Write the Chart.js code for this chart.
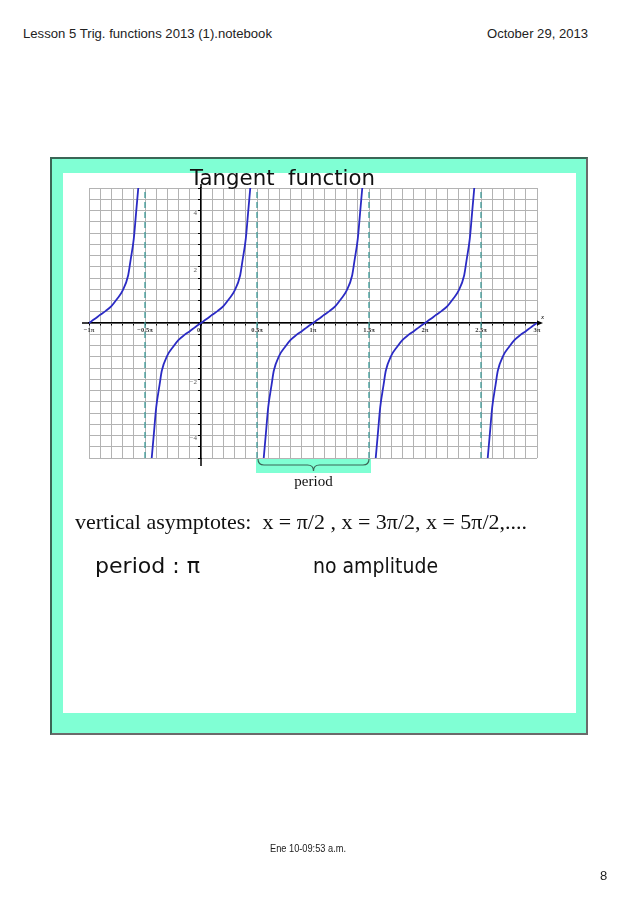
<!DOCTYPE html>
<html>
<head>
<meta charset="utf-8">
<script src="https://cdn.jsdelivr.net/npm/chart.js@4.4.1/dist/chart.umd.min.js"></script>
<style>
html, body { margin: 0; padding: 0; background: #fff; }
#page { position: relative; width: 638px; height: 903px; overflow: hidden; background: #fff; }
.t { position: absolute; white-space: pre; line-height: 1; transform-origin: 0 50%; color: #111; }
.sans { font-family: "Liberation Sans", Arial, sans-serif; color: #222; }
.serif { font-family: "Liberation Serif", "Times New Roman", serif; }
.comic { font-family: "DejaVu Sans", sans-serif; }
#box { position: absolute; left: 50px; top: 157px; width: 538px; height: 578px; box-sizing: border-box;
       background: #80ffd4; border: 2px solid #3b6656; border-right-color: #6a6a6a; border-bottom-color: #6a6a6a; }
#inner { position: absolute; left: 63px; top: 173px; width: 513px; height: 540px; background: #fff; }
#myChart { position: absolute; left: 0; top: 0; }
</style>
</head>
<body>
<div id="page">
  <div class="t sans" style="left:23px;top:28px;font-size:12px" data-w="249">Lesson 5 Trig. functions 2013 (1).notebook</div>
  <div class="t sans" style="left:487px;top:28px;font-size:12px" data-w="101">October 29, 2013</div>

  <div id="box"></div>
  <div id="inner"></div>
  <canvas id="myChart" width="638" height="903"></canvas>

  <div class="t comic" style="left:190px;top:167px;font-size:22px" data-w="185">Tangent  function</div>
  <div class="t serif" style="left:75px;top:512px;font-size:21px" data-w="452">vertical asymptotes:  x = π/2 , x = 3π/2, x = 5π/2,....</div>
  <div class="t comic" style="left:95px;top:556px;font-size:21px" data-w="105">period : π</div>
  <div class="t comic" style="left:313px;top:556px;font-size:21px" data-w="125">no amplitude</div>

  <div class="t sans" style="left:270px;top:844px;font-size:10px" data-w="76">Ene 10-09:53 a.m.</div>
  <div class="t sans" style="left:600px;top:869px;font-size:13px">8</div>
</div>

<script>
// x values are in units of pi
const tickValuesX = [-1, -0.5, 0, 0.5, 1, 1.5, 2, 2.5, 3];
const tickLabelsX = ['\u22121\u03c0', '\u22120.5\u03c0', '0\u00a0\u00a0\u00a0', '0.5\u03c0', '1\u03c0', '1.5\u03c0', '2\u03c0', '2.5\u03c0', '3\u03c0'];
const tickValuesY = [-4, -2, 2, 4];
const tickLabelsY = ['\u22124', '\u22122', '2', '4'];

const asymptotes = [-0.5, 0.5, 1.5, 2.5];
const branchCenters = [-1, 0, 1, 2, 3];

// one branch: offset from the branch centre and height
const branchOffsets = [-0.44, -0.42, -0.40, -0.37, -0.35, -0.30, -0.25, -0.20, -0.15, -0.10, -0.05, 0,
                       0.05, 0.10, 0.15, 0.20, 0.25, 0.30, 0.35, 0.37, 0.40, 0.42, 0.44];
const branchValues = [-4.8, -3.9, -3.0, -2.2, -1.7, -1.15, -0.85, -0.6, -0.43, -0.29, -0.14, 0,
                      0.14, 0.29, 0.43, 0.6, 0.85, 1.15, 1.7, 2.2, 3.0, 3.9, 4.8];

const xMin = -1, xMax = 3, yMin = -4.8, yMax = 4.8;

function near(a, b) { return Math.abs(a - b) < 1e-6; }

function labelFor(v, values, labels) {
    for (let i = 0; i < values.length; i++) {
        if (near(v, values[i])) return labels[i];
    }
    return '';
}

const datasets = [];

branchCenters.forEach(function (c) {
    const pts = [];
    branchOffsets.forEach(function (d, i) {
        const x = c + d;
        if (x >= xMin - 1e-9 && x <= xMax + 1e-9) pts.push({ x: x, y: branchValues[i] });
    });
    datasets.push({
        data: pts,
        borderColor: '#2b2bc4',
        borderWidth: 1.8,
        pointRadius: 0,
        cubicInterpolationMode: 'monotone',
        fill: false
    });
});

asymptotes.forEach(function (a) {
    datasets.push({
        data: [{ x: a, y: yMin }, { x: a, y: yMax }],
        borderColor: '#3c9a98',
        borderWidth: 1.3,
        borderDash: [6, 4],
        pointRadius: 0,
        fill: false
    });
});

// axis extensions, arrow and the "period" brace below the grid
const extras = {
    id: 'extras',
    afterDraw: function (chart) {
        const ctx = chart.ctx;
        const xs = chart.scales.x, ys = chart.scales.y;
        const area = chart.chartArea;
        const x0 = xs.getPixelForValue(0), y0 = ys.getPixelForValue(0);
        ctx.save();
        ctx.strokeStyle = '#000';
        ctx.lineWidth = 1.5;
        ctx.beginPath();
        ctx.moveTo(x0, area.top - 4);
        ctx.lineTo(x0, area.top);
        ctx.moveTo(x0, area.bottom);
        ctx.lineTo(x0, area.bottom + 8);
        ctx.moveTo(area.left - 7, y0);
        ctx.lineTo(area.left, y0);
        ctx.moveTo(area.right, y0);
        ctx.lineTo(area.right + 3, y0);
        ctx.stroke();
        ctx.fillStyle = '#000';
        ctx.beginPath();
        ctx.moveTo(area.right + 6, y0);
        ctx.lineTo(area.right, y0 - 2.5);
        ctx.lineTo(area.right, y0 + 2.5);
        ctx.closePath();
        ctx.fill();
        ctx.font = 'italic 7px "Liberation Serif"';
        ctx.fillText('x', area.right + 4, y0 - 4);

        // y labels sit just left of the vertical axis
        ctx.fillStyle = '#555';
        ctx.font = '7px "Liberation Serif"';
        ctx.textAlign = 'right';
        ctx.textBaseline = 'middle';
        tickValuesY.forEach(function (v, i) {
            ctx.fillText(tickLabelsY[i], x0 - 4, ys.getPixelForValue(v) + 3);
        });

        // period bracket between two asymptotes
        const xl = xs.getPixelForValue(asymptotes[1]) - 1;
        const xr = xs.getPixelForValue(asymptotes[2]) + 2;
        const t = area.bottom + 1;
        ctx.fillStyle = '#80ffd4';
        ctx.fillRect(xl, t, xr - xl, 14);
        const xc = (xl + xr) / 2, m = t + 6, tip = t + 12;
        ctx.strokeStyle = '#3b6656';
        ctx.lineWidth = 1.2;
        ctx.beginPath();
        ctx.moveTo(xl + 2, t);
        ctx.quadraticCurveTo(xl + 2, m, xl + 8, m);
        ctx.lineTo(xc - 6, m);
        ctx.quadraticCurveTo(xc, m, xc, tip);
        ctx.quadraticCurveTo(xc, m, xc + 6, m);
        ctx.lineTo(xr - 8, m);
        ctx.quadraticCurveTo(xr - 2, m, xr - 2, t);
        ctx.stroke();
        ctx.fillStyle = '#111';
        ctx.font = '15px "Liberation Serif"';
        ctx.textAlign = 'center';
        ctx.textBaseline = 'alphabetic';
        ctx.fillText('period', xc, area.bottom + 28);
        ctx.restore();
    }
};

const ctx = document.getElementById('myChart');
const mychart = new Chart(ctx, {
    type: 'line',
    data: { datasets: datasets },
    plugins: [extras],
    options: {
        responsive: false,
        animation: false,
        events: [],
        layout: { padding: { left: 89, right: 101, top: 188, bottom: 445 } },
        plugins: { legend: { display: false }, tooltip: { enabled: false } },
        scales: {
            x: {
                type: 'linear',
                min: xMin,
                max: xMax,
                position: { y: 0 },
                grid: { color: '#b3b3b3', lineWidth: 1, tickLength: 2, tickColor: '#000' },
                border: { color: '#000', width: 1.5 },
                ticks: {
                    stepSize: 0.1,
                    maxTicksLimit: 1000,
                    autoSkip: false,
                    maxRotation: 0,
                    padding: 1,
                    color: '#333',
                    font: { family: 'Liberation Serif', size: 6.5, weight: 'bold' },
                    callback: function (v) { return labelFor(v, tickValuesX, tickLabelsX); }
                }
            },
            y: {
                type: 'linear',
                min: yMin,
                max: yMax,
                position: { x: 0 },
                grid: { color: '#b3b3b3', lineWidth: 1, tickLength: 2, tickColor: '#000' },
                border: { color: '#000', width: 1.5 },
                ticks: {
                    stepSize: 0.4,
                    maxTicksLimit: 1000,
                    autoSkip: false,
                    display: false
                }
            }
        }
    }
});

// squeeze or stretch each text line to the width it has in the picture
document.querySelectorAll('.t[data-w]').forEach(function (el) {
    const w = el.getBoundingClientRect().width;
    const target = parseFloat(el.getAttribute('data-w'));
    if (w > 0) el.style.transform = 'scaleX(' + (target / w) + ')';
});
</script>
</body>
</html>
